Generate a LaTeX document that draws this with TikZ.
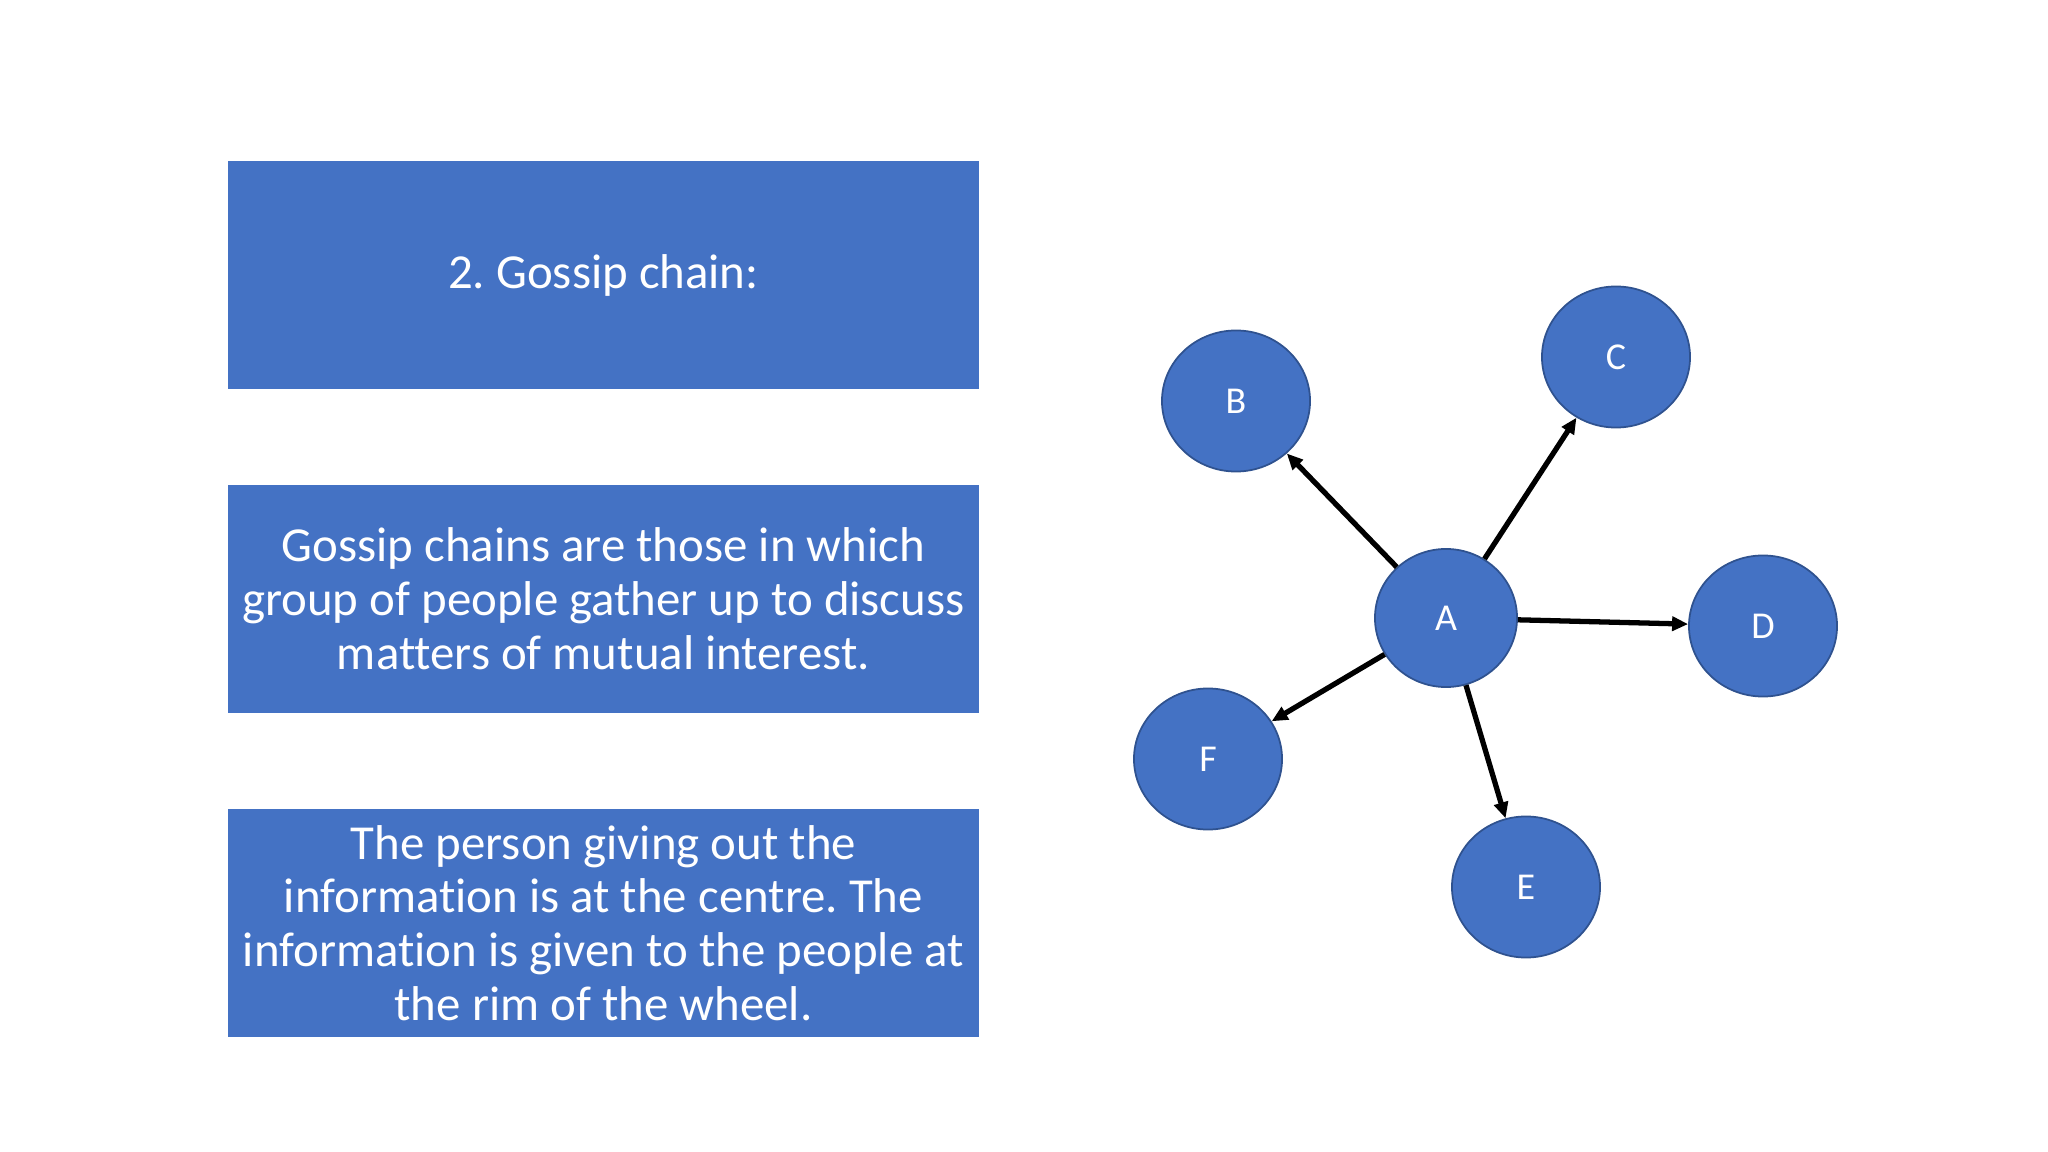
\documentclass[tikz,border=0pt]{standalone}
\usepackage{fontspec}
\setmainfont{Carlito}[Ligatures=NoCommon]
\usepackage{tikz}
\usetikzlibrary{positioning,shapes.geometric,arrows.meta}
\definecolor{gossipblue}{HTML}{4472C4}
\definecolor{rimblue}{HTML}{2F528F}
\frenchspacing

\begin{document}
\begin{tikzpicture}[x=0.01cm,y=-0.01cm,
    textbox/.style={rectangle, fill=gossipblue, draw=gossipblue, text=white,
        minimum width=7.5cm, minimum height=2.26cm, align=center,
        font=\fontsize{13.9}{15.3}\selectfont},
    person/.style={ellipse, fill=gossipblue, draw=rimblue, line width=0.5pt,
        text=white, minimum width=1.48cm, minimum height=1.41cm, inner sep=0pt,
        font=\fontsize{10.8}{12}\selectfont},
    spoke/.style={-{Triangle[length=0.16cm,width=0.14cm]}, line width=1.5pt, black}]
	\useasboundingbox (0,0) rectangle (2048,1152);
	
	\node[textbox] (title) at (603.5,275) {2. Gossip chain:};
	\node[textbox] (what) at (603.5,599)
    {Gossip chains are those in which\\group of people gather up to discuss\\matters of mutual interest.};
	\node[textbox] (how) at (603.5,923)
    {The person giving out the\\information is at the centre. The\\information is given to the people at\\the rim of the wheel.};
	
	\node[person, minimum width=1.42cm, minimum height=1.38cm] (A) at (1446,618) {A};
	\node[person] (B) at (1236,401) {B};
	\node[person] (C) at (1616,357) {C};
	\node[person] (D) at (1763,626) {D};
	\node[person] (E) at (1526,887) {E};
	\node[person] (F) at (1208,759) {F};
	
	\foreach \rim in {B,C,D,E,F}
		\draw[spoke] (A) -- (\rim);
	
\end{tikzpicture}
\end{document}
